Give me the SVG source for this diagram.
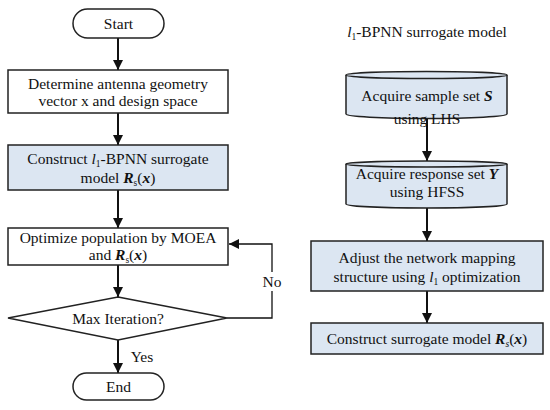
<svg xmlns="http://www.w3.org/2000/svg" width="550" height="410" viewBox="0 0 550 410">
<defs>
<marker id="ah" viewBox="0 0 10 10" refX="10" refY="5" markerWidth="10" markerHeight="10" markerUnits="userSpaceOnUse" orient="auto">
<path d="M0,0 L10,5 L0,10 z" fill="#111"/>
</marker>
</defs>
<style>
text{font-family:'Liberation Serif','Times New Roman',Tinos,'DejaVu Serif',serif;font-size:15.5px;fill:#111;text-anchor:middle}
.b{fill:#fff;stroke:#222;stroke-width:1.5}
.bl{fill:#dce6f2;stroke:#222;stroke-width:1.5}
.c{fill:none;stroke:#111;stroke-width:2}
.f{fill:none;stroke:#111;stroke-width:1.3}
.bi{font-weight:bold;font-style:italic}
.i{font-style:italic}
.s{font-size:9.5px}
</style>
<rect width="550" height="410" fill="#fff"/>
<g id="connectors">
<line class="c" x1="118" y1="38" x2="118" y2="70" marker-end="url(#ah)"/>
<line class="c" x1="118" y1="113" x2="118" y2="145" marker-end="url(#ah)"/>
<line class="c" x1="118" y1="190" x2="118" y2="228" marker-end="url(#ah)"/>
<line class="c" x1="118" y1="265" x2="118" y2="297" marker-end="url(#ah)"/>
<line class="c" x1="118" y1="340" x2="118" y2="373" marker-end="url(#ah)"/>
<polyline class="f" points="227,318 272,318 272,291"/>
<polyline class="f" points="272,272 272,244 229,244" marker-end="url(#ah)"/>
<text x="272" y="287">No</text>
<text x="142" y="362">Yes</text>
<line class="c" x1="427" y1="119" x2="427" y2="161" marker-end="url(#ah)"/>
<line class="c" x1="427" y1="208" x2="427" y2="241" marker-end="url(#ah)"/>
<line class="c" x1="427" y1="291" x2="427" y2="323" marker-end="url(#ah)"/>
</g>
<g id="start">
<rect class="b" x="73" y="9" width="91" height="29" rx="14.5"/>
<text x="118.5" y="29">Start</text>
</g>
<g id="determine">
<rect class="b" x="8" y="70" width="220" height="43"/>
<text x="118" y="89">Determine antenna geometry</text>
<text x="118" y="106">vector x and design space</text>
</g>
<g id="construct-l1">
<rect class="bl" x="8" y="145" width="220" height="45"/>
<text x="118" y="164">Construct <tspan class="i">l</tspan><tspan class="s" dy="3">1</tspan><tspan dy="-3">-BPNN surrogate</tspan></text>
<text x="118" y="183">model <tspan class="bi">R</tspan><tspan class="s" dy="3">s</tspan><tspan dy="-3">(</tspan><tspan class="bi">x</tspan>)</text>
</g>
<g id="optimize">
<rect class="b" x="8" y="228" width="220" height="37"/>
<text x="118" y="243">Optimize population by MOEA</text>
<text x="118" y="260">and <tspan class="bi">R</tspan><tspan class="s" dy="3">s</tspan><tspan dy="-3">(</tspan><tspan class="bi">x</tspan>)</text>
</g>
<g id="max-iteration">
<polygon class="b" points="118,297 227,318 118,340 8,318"/>
<text x="118" y="324">Max Iteration?</text>
</g>
<g id="end">
<rect class="b" x="73" y="373" width="91" height="27" rx="13.5"/>
<text x="118.5" y="392">End</text>
</g>
<g id="title">
<text x="427" y="37"><tspan class="i">l</tspan><tspan class="s" dy="3">1</tspan><tspan dy="-3">-BPNN surrogate model</tspan></text>
</g>
<g id="sample-set">
<path class="bl" d="M346,75 L346,114 A80.5,4.5 0 0 0 507,114 L507,75"/>
<ellipse class="bl" cx="426.5" cy="75" rx="80.5" ry="3.5"/>
<text x="427" y="101">Acquire sample set <tspan class="bi">S</tspan></text>
<text x="427" y="124">using LHS</text>
</g>
<g id="response-set">
<path class="bl" d="M346,164 L346,204 A80.5,4 0 0 0 507,204 L507,164"/>
<ellipse class="bl" cx="426.5" cy="164" rx="80.5" ry="3"/>
<text x="427" y="179">Acquire response set <tspan class="bi">Y</tspan></text>
<text x="427" y="197">using HFSS</text>
</g>
<g id="adjust">
<rect class="bl" x="311" y="241" width="232" height="50"/>
<text x="427" y="263">Adjust the network mapping</text>
<text x="427" y="282">structure using <tspan class="i">l</tspan><tspan class="s" dy="3">1</tspan><tspan dy="-3"> optimization</tspan></text>
</g>
<g id="construct-model">
<rect class="bl" x="311" y="323" width="232" height="31"/>
<text x="427" y="344">Construct surrogate model <tspan class="bi">R</tspan><tspan class="s i" dy="3">s</tspan><tspan dy="-3">(</tspan><tspan class="bi">x</tspan>)</text>
</g>
</svg>
